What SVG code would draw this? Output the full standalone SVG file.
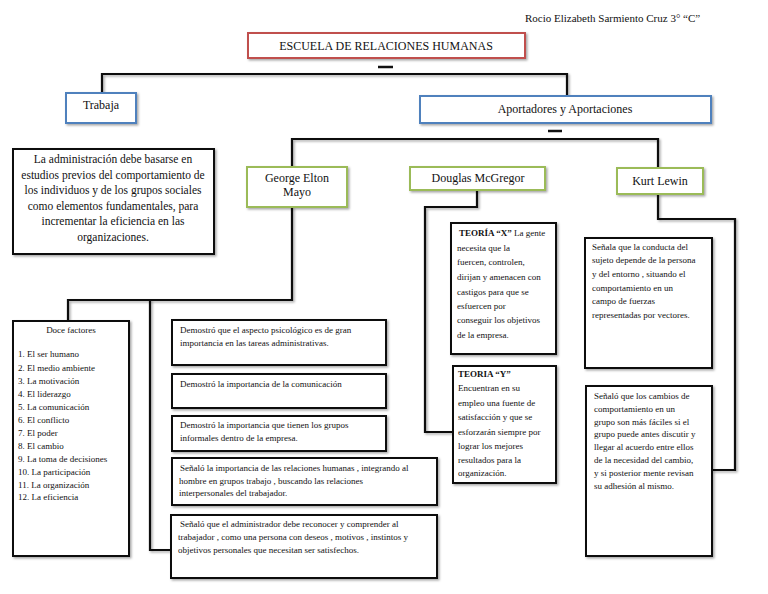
<svg xmlns="http://www.w3.org/2000/svg" width="768" height="594" viewBox="0 0 768 594">
<defs>
<filter id="sh" x="-10%" y="-10%" width="130%" height="130%">
<feDropShadow dx="1.5" dy="1.5" stdDeviation="1" flood-color="#000" flood-opacity="0.35"/>
</filter>
<style>
text{font-family:"Liberation Serif","Times New Roman",serif;fill:#111}
.box{fill:#fff;stroke:#111;stroke-width:2;filter:url(#sh)}
.red{fill:#fff;stroke:#c0504d;stroke-width:2;filter:url(#sh)}
.blue{fill:#fff;stroke:#4f81bd;stroke-width:2;filter:url(#sh)}
.green{fill:#fff;stroke:#9bbb59;stroke-width:2;filter:url(#sh)}
.con{fill:none;stroke:#111;stroke-width:2.2;filter:url(#sh)}
.dash{stroke:#111;stroke-width:2.5}
.hd{font-size:12px;text-anchor:middle}
.big{font-size:11.5px;text-anchor:middle}
.sm{font-size:9px}
</style>
</defs>
<rect width="768" height="594" fill="#fff"/>
<text x="525" y="22" font-size="11">Rocio Elizabeth Sarmiento Cruz  3° “C”</text>

<g id="connectors">
<line class="dash" x1="378" y1="67" x2="393" y2="67"/>
<line class="dash" x1="548" y1="131" x2="562" y2="131"/>
<path class="con" d="M102,93 V74 H567 V96"/>
<path class="con" d="M102,123 V149"/>
<path class="con" d="M292,167 V139 H658 V168"/>
<path class="con" d="M477,139 V167"/>
<path class="con" d="M477,190 V207 H425 V432 H453"/>
<path class="con" d="M425,287 H451"/>
<path class="con" d="M658,194 V219 H735 V470 H712"/>
<path class="con" d="M712,300 H735"/>
<path class="con" d="M292,207 V300 H68 V321"/>
<path class="con" d="M150,300 V550 H171"/>
<path class="con" d="M150,342 H172"/>
<path class="con" d="M150,391 H172"/>
<path class="con" d="M150,434 H172"/>
<path class="con" d="M150,483 H172"/>
</g>

<g id="title">
<rect class="red" x="248" y="33" width="277" height="25"/>
<text class="hd" x="386" y="50" font-size="12.5">ESCUELA DE RELACIONES HUMANAS</text>
</g>

<g id="trabaja">
<rect class="blue" x="66" y="93" width="70" height="30"/>
<text class="hd" x="101" y="109" font-size="12.5">Trabaja</text>
</g>

<g id="trabaja-text">
<rect class="box" x="13" y="149" width="201" height="105"/>
<text class="big" x="113" y="163">La administración debe basarse en</text>
<text class="big" x="113" y="178.5">estudios previos del comportamiento de</text>
<text class="big" x="113" y="194">los individuos y de los grupos sociales</text>
<text class="big" x="113" y="209.5">como elementos fundamentales, para</text>
<text class="big" x="113" y="225">incrementar la eficiencia en las</text>
<text class="big" x="113" y="240.5">organizaciones.</text>
</g>

<g id="aportadores">
<rect class="blue" x="420" y="96" width="291" height="27"/>
<text class="hd" x="565" y="113" font-size="11.5">Aportadores y Aportaciones</text>
</g>

<g id="george">
<rect class="green" x="247" y="167" width="100" height="40"/>
<text class="hd" x="297" y="182" font-size="11.5">George Elton</text>
<text class="hd" x="297" y="196" font-size="11.5">Mayo</text>
</g>

<g id="douglas">
<rect class="green" x="410" y="167" width="135" height="23"/>
<text class="hd" x="478" y="182" font-size="11.5">Douglas McGregor</text>
</g>

<g id="kurt">
<rect class="green" x="617" y="168" width="86" height="26"/>
<text class="hd" x="660" y="185" font-size="11.5">Kurt Lewin</text>
</g>

<g id="teoria-x">
<rect class="box" x="451" y="223" width="105" height="131"/>
<text class="sm" x="459" y="236"><tspan font-weight="bold">TEORÍA “X”</tspan> La gente</text>
<text class="sm" x="457" y="251">necesita que la</text>
<text class="sm" x="457" y="265">fuercen, controlen,</text>
<text class="sm" x="457" y="280">dirijan y amenacen con</text>
<text class="sm" x="457" y="295">castigos para que se</text>
<text class="sm" x="457" y="309">esfuercen por</text>
<text class="sm" x="457" y="323">conseguir los objetivos</text>
<text class="sm" x="457" y="338">de la empresa.</text>
</g>

<g id="teoria-y">
<rect class="box" x="453" y="366" width="103" height="117"/>
<text class="sm" x="458" y="377" font-weight="bold">TEORIA “Y”</text>
<text class="sm" x="458" y="391">Encuentran en su</text>
<text class="sm" x="458" y="406">empleo una fuente de</text>
<text class="sm" x="458" y="420">satisfacción y que se</text>
<text class="sm" x="458" y="435">esforzarán siempre por</text>
<text class="sm" x="458" y="449">lograr los mejores</text>
<text class="sm" x="458" y="463">resultados para la</text>
<text class="sm" x="458" y="476">organización.</text>
</g>

<g id="kurt-1">
<rect class="box" x="585" y="238" width="127" height="130"/>
<text class="sm" x="592" y="250">Señala que la conducta del</text>
<text class="sm" x="592" y="263">sujeto depende de la persona</text>
<text class="sm" x="592" y="277">y del entorno , situando el</text>
<text class="sm" x="592" y="291">comportamiento en un</text>
<text class="sm" x="592" y="304">campo de fuerzas</text>
<text class="sm" x="592" y="318">representadas por vectores.</text>
</g>

<g id="kurt-2">
<rect class="box" x="586" y="386" width="126" height="170"/>
<text class="sm" x="594" y="399">Señaló que los cambios de</text>
<text class="sm" x="594" y="412">comportamiento en un</text>
<text class="sm" x="594" y="425">grupo son más fáciles si el</text>
<text class="sm" x="594" y="437">grupo puede antes discutir y</text>
<text class="sm" x="594" y="450">llegar al acuerdo entre ellos</text>
<text class="sm" x="594" y="463">de la necesidad del cambio,</text>
<text class="sm" x="594" y="476">y si posterior mente revisan</text>
<text class="sm" x="594" y="489">su adhesión al mismo.</text>
</g>

<g id="doce-factores">
<rect class="box" x="13" y="321" width="116" height="235"/>
<text class="sm" x="71" y="333" text-anchor="middle">Doce factores</text>
<text class="sm" x="18" y="357">1. El ser humano</text>
<text class="sm" x="18" y="371">2. El medio ambiente</text>
<text class="sm" x="18" y="384">3. La motivación</text>
<text class="sm" x="18" y="397">4. El liderazgo</text>
<text class="sm" x="18" y="410">5. La comunicación</text>
<text class="sm" x="18" y="423">6. El conflicto</text>
<text class="sm" x="18" y="436">7. El poder</text>
<text class="sm" x="18" y="449">8. El cambio</text>
<text class="sm" x="18" y="462">9. La toma de decisiones</text>
<text class="sm" x="18" y="475">10. La participación</text>
<text class="sm" x="18" y="488">11. La organización</text>
<text class="sm" x="18" y="500">12. La eficiencia</text>
</g>

<g id="mayo-1">
<rect class="box" x="172" y="320" width="214" height="45"/>
<text class="sm" x="180" y="333">Demostró que el aspecto psicológico es de gran</text>
<text class="sm" x="180" y="346">importancia en las tareas administrativas.</text>
</g>

<g id="mayo-2">
<rect class="box" x="172" y="374" width="214" height="34"/>
<text class="sm" x="180" y="387">Demostró la importancia de la comunicación</text>
</g>

<g id="mayo-3">
<rect class="box" x="172" y="416" width="214" height="35"/>
<text class="sm" x="180" y="428">Demostró la importancia que tienen los grupos</text>
<text class="sm" x="180" y="441">informales dentro de la empresa.</text>
</g>

<g id="mayo-4">
<rect class="box" x="172" y="458" width="265" height="47"/>
<text class="sm" x="180" y="471">Señaló la importancia de las relaciones humanas , integrando al</text>
<text class="sm" x="179" y="484">hombre en grupos trabajo , buscando las relaciones</text>
<text class="sm" x="179" y="496">interpersonales del trabajador.</text>
</g>

<g id="mayo-5">
<rect class="box" x="171" y="515" width="266" height="63"/>
<text class="sm" x="180" y="527">Señaló que el administrador debe reconocer y comprender al</text>
<text class="sm" x="178" y="540">trabajador , como una persona con deseos , motivos , instintos y</text>
<text class="sm" x="178" y="553">objetivos personales que necesitan ser satisfechos.</text>
</g>
</svg>
